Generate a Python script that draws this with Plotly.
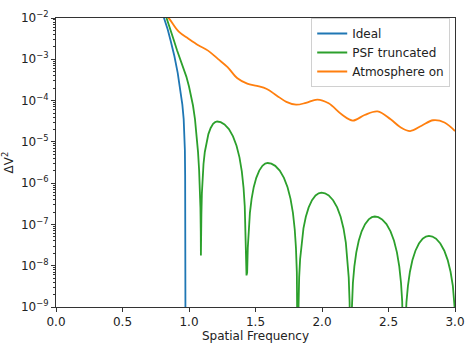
import plotly.graph_objects as go

# ---- data (frequency, log10 of Delta V^2) ----
ideal_freq = [0.800, 0.8125, 0.840, 0.862, 0.890, 0.915, 0.935, 0.950, 0.960, 0.966,
              0.969, 0.971, 0.972, 0.973, 0.9735, 0.974, 0.9745]
ideal_log10 = [-1.88, -2.00, -2.28, -2.55, -2.92, -3.33, -3.72, -4.10, -4.45, -4.80,
               -5.20, -5.80, -6.50, -7.50, -8.50, -9.50, -11.0]

psf_freq = [
    0.820, 0.832, 0.860, 0.886, 0.910, 0.935, 0.960, 0.980, 1.000, 1.015, 1.030, 1.045,
    1.058, 1.068, 1.076, 1.082, 1.086, 1.0885, 1.0895,
    1.0913, 1.0932, 1.0968, 1.1017, 1.1091, 1.1189, 1.1311, 1.1458, 1.1629, 1.1812, 1.1971, 1.2118,
    1.2383, 1.2670, 1.3000, 1.3309, 1.3574, 1.3795, 1.3971, 1.4103, 1.4192, 1.4258, 1.4291, 1.4324,
    1.4372, 1.4420, 1.4484, 1.4579, 1.4707, 1.4866, 1.5058, 1.5281, 1.5520, 1.5728, 1.5919,
    1.6190, 1.6483, 1.6822, 1.7138, 1.7409, 1.7634, 1.7815, 1.7950, 1.8041, 1.8108, 1.8142, 1.8165, 1.8176,
    1.8185, 1.8203, 1.8230, 1.8283, 1.8355, 1.8462, 1.8605, 1.8784, 1.8998, 1.9248, 1.9516, 1.9749, 1.9963,
    2.0224, 2.0507, 2.0834, 2.1139, 2.1400, 2.1618, 2.1792, 2.1922, 2.2009, 2.2075, 2.2107, 2.2140,
    2.2167, 2.2195, 2.2250, 2.2323, 2.2433, 2.2579, 2.2762, 2.2982, 2.3238, 2.3513, 2.3750, 2.3970,
    2.4233, 2.4518, 2.4846, 2.5153, 2.5415, 2.5634, 2.5810, 2.5941, 2.6029, 2.6094, 2.6127, 2.6160,
    2.6216, 2.6273, 2.6348, 2.6461, 2.6611, 2.6799, 2.7025, 2.7288, 2.7570, 2.7814, 2.8040,
    2.8297, 2.8575, 2.8896, 2.9196, 2.9452, 2.9666, 2.9838, 2.9966, 3.0052, 3.0116, 3.0180]
psf_log10 = [
    -1.89, -2.00, -2.27, -2.54, -2.78, -3.00, -3.22, -3.42, -3.66, -3.88, -4.12, -4.45,
    -4.85, -5.25, -5.68, -6.12, -6.60, -7.20, -7.75,
    -7.275, -6.763, -6.252, -5.876, -5.535, -5.245, -5.005, -4.812, -4.663, -4.565, -4.520, -4.507,
    -4.523, -4.576, -4.691, -4.866, -5.093, -5.375, -5.716, -6.118, -6.560, -7.161, -7.763, -8.234,
    -8.166, -7.565, -7.123, -6.721, -6.380, -6.098, -5.871, -5.696, -5.581, -5.528, -5.512,
    -5.528, -5.581, -5.696, -5.871, -6.098, -6.380, -6.721, -7.123, -7.565, -8.166, -8.768, -9.722, -11.0,
    -10.439, -9.485, -8.883, -8.282, -7.840, -7.438, -7.097, -6.815, -6.588, -6.413, -6.298, -6.245, -6.229,
    -6.245, -6.298, -6.413, -6.588, -6.815, -7.097, -7.438, -7.840, -8.282, -8.883, -9.485, -11.0,
    -10.064, -9.462, -8.861, -8.419, -8.017, -7.676, -7.394, -7.167, -6.992, -6.877, -6.824, -6.808,
    -6.824, -6.877, -6.992, -7.167, -7.394, -7.676, -8.017, -8.419, -8.861, -9.462, -10.064, -11.0,
    -9.932, -9.331, -8.889, -8.487, -8.146, -7.864, -7.637, -7.462, -7.347, -7.294, -7.278,
    -7.294, -7.347, -7.462, -7.637, -7.864, -8.146, -8.487, -8.889, -9.331, -9.932, -11.0]

atmo_freq = [0.820, 0.849, 0.923, 0.996, 1.070, 1.143, 1.217, 1.290, 1.364, 1.438, 1.511,
             1.585, 1.658, 1.732, 1.805, 1.879, 1.965, 2.050, 2.149, 2.232, 2.320, 2.418,
             2.516, 2.590, 2.663, 2.749, 2.835, 2.921, 3.000]
atmo_log10 = [-1.92, -2.007, -2.33, -2.50, -2.66, -2.79, -2.99, -3.19, -3.46, -3.59, -3.645,
              -3.72, -3.875, -4.03, -4.10, -4.056, -3.975, -4.067, -4.338, -4.484, -4.350, -4.262,
              -4.454, -4.646, -4.738, -4.609, -4.477, -4.530, -4.738]

series_names = ["Ideal", "PSF truncated", "Atmosphere on"]
series_colors = ["#1f77b4", "#2ca02c", "#ff7f0e"]

x_tick_vals = [0.0, 0.5, 1.0, 1.5, 2.0, 2.5, 3.0]
y_exponents = [-9, -8, -7, -6, -5, -4, -3, -2]

fig = go.Figure()
for name, color, fx, ly, shape in [
        (series_names[0], series_colors[0], ideal_freq, ideal_log10, "linear"),
        (series_names[1], series_colors[1], psf_freq, psf_log10, "linear"),
        (series_names[2], series_colors[2], atmo_freq, atmo_log10, "spline")]:
    fig.add_trace(go.Scatter(x=fx, y=[10 ** e for e in ly], mode="lines", name=name,
                             line=dict(color=color, width=1.8, shape=shape)))

minor_vals = [m * 10 ** e for e in range(-9, -2) for m in range(2, 10)]

fig.update_layout(
    width=474, height=350,
    margin=dict(l=55, r=12, t=9, b=39),
    paper_bgcolor="white", plot_bgcolor="white",
    font=dict(family="DejaVu Sans", size=12, color="#222"),
    showlegend=True,
    legend=dict(x=0.988, y=1.0, xanchor="right", yanchor="top",
                bgcolor="rgba(255,255,255,0.85)", bordercolor="#d0d0d0", borderwidth=1,
                font=dict(size=12, color="#222"), tracegroupgap=0, itemwidth=30),
    xaxis=dict(range=[0, 3], tickvals=x_tick_vals, tickformat=".1f",
               showgrid=False, zeroline=False, showline=True, mirror=True,
               linecolor="#333", linewidth=1, ticks="outside", ticklen=4,
               tickcolor="#333", title=dict(text="Spatial Frequency", standoff=3,
                                            font=dict(size=12))),
    yaxis=dict(type="log", range=[-9, -2],
               tickvals=[10 ** e for e in y_exponents],
               ticktext=["10<sup>\u2212%d</sup>" % (-e) for e in y_exponents],
               showgrid=False, zeroline=False, showline=True, mirror=True,
               linecolor="#333", linewidth=1, ticks="outside", ticklen=4,
               tickcolor="#333",
               minor=dict(tickvals=minor_vals, ticks="outside", ticklen=2,
                          tickcolor="#333", showgrid=False),
               title=dict(text="\u0394V<sup>2</sup>", standoff=4, font=dict(size=12))),
)

fig.write_html("out.html")
